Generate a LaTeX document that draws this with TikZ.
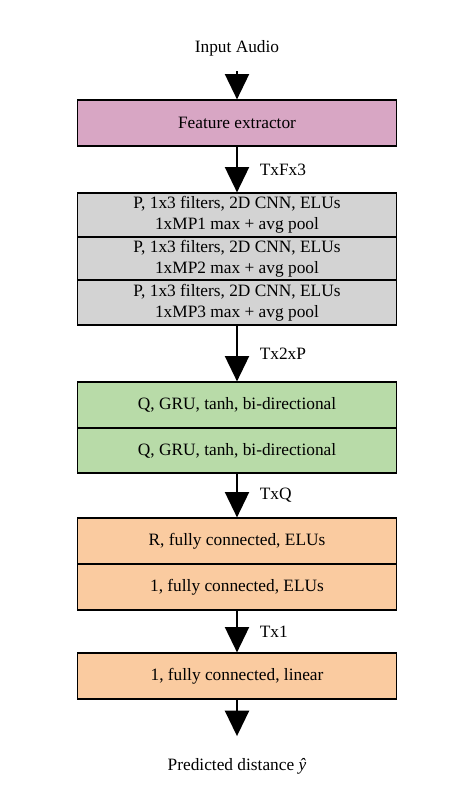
\documentclass[tikz,border=0pt]{standalone}
\usepackage{fontspec}
\setmainfont{Liberation Serif}
\usepackage{tikz}
\usetikzlibrary{arrows.meta}
\definecolor{pinkfe}{RGB}{216,166,196}
\definecolor{graycnn}{RGB}{211,211,211}
\definecolor{greengru}{RGB}{184,219,168}
\definecolor{orangefc}{RGB}{250,203,160}
\tikzset{every node/.style={font=\fontsize{13}{15.5}\selectfont},
  layer/.style={draw,line width=0.9pt,minimum width=239pt,inner sep=0pt,align=center},
  arr/.style={line width=1.5pt,-{Triangle[width=18pt,length=19pt]}},
  lbl/.style={right,xshift=13pt}}

\begin{document}
\begin{tikzpicture}[x=0.75pt,y=-0.75pt]
\useasboundingbox (0,0) rectangle (474,799);
\node (in) at (237,48) {Input Audio};
\node[layer,fill=pinkfe,minimum height=34.5pt] (fe) at (237,123) {Feature extractor};
\node[layer,fill=graycnn,minimum height=33pt] (cnn1) at (237,215) {P, 1x3 filters, 2D CNN, ELUs\\1xMP1 max + avg pool};
\node[layer,fill=graycnn,minimum height=32.25pt] (cnn2) at (237,258.5) {P, 1x3 filters, 2D CNN, ELUs\\1xMP2 max + avg pool};
\node[layer,fill=graycnn,minimum height=33.75pt] (cnn3) at (237,302.5) {P, 1x3 filters, 2D CNN, ELUs\\1xMP3 max + avg pool};
\node[layer,fill=greengru,minimum height=34.5pt] (gru1) at (237,405) {Q, GRU, tanh, bi-directional};
\node[layer,fill=greengru,minimum height=33.75pt] (gru2) at (237,450.5) {Q, GRU, tanh, bi-directional};
\node[layer,fill=orangefc,minimum height=34.5pt] (fc1) at (237,541) {R, fully connected, ELUs};
\node[layer,fill=orangefc,minimum height=34.5pt] (fc2) at (237,587) {1, fully connected, ELUs};
\node[layer,fill=orangefc,minimum height=34.5pt] (fc3) at (237,676) {1, fully connected, linear};
\node (out) at (237,766) {Predicted distance \textit{ŷ}};
% arrows between layers
\draw[arr,shorten <=8pt] (in) -- (fe);
\draw[arr] (fe) -- node[lbl]{TxFx3} (cnn1);
\draw[arr] (cnn3) -- node[lbl]{Tx2xP} (gru1);
\draw[arr] (gru2) -- node[lbl]{TxQ} (fc1);
\draw[arr] (fc2) -- node[lbl]{Tx1} (fc3);
\draw[arr,shorten >=13pt] (fc3) -- (out);
\end{tikzpicture}
\end{document}
